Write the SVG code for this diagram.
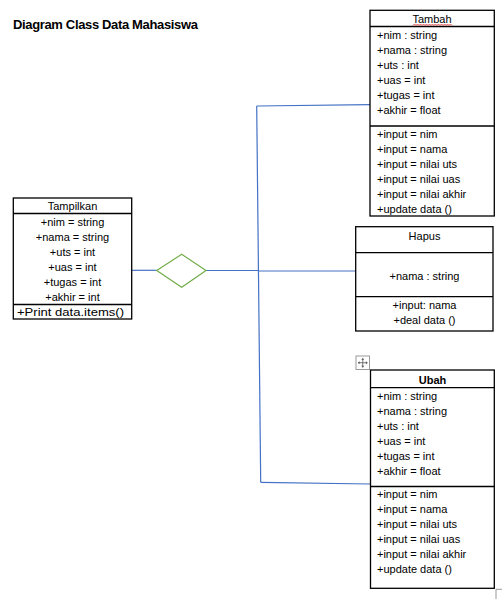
<svg xmlns="http://www.w3.org/2000/svg" width="502" height="599" viewBox="0 0 502 599">
<style>
.box{fill:#fff;stroke:#000;stroke-width:1.3}
.ln{stroke:#000;stroke-width:1.3}
.t{font-family:"Liberation Sans",Arial,sans-serif;font-size:11px;fill:#000}
.c{text-anchor:middle}
.con{stroke:#4472C4;stroke-width:1.2;fill:none}
</style>
<rect width="502" height="599" fill="#fff"/>
<text x="13" y="29" font-family="Liberation Sans,Arial,sans-serif" font-size="13" font-weight="bold" textLength="185">Diagram Class Data Mahasiswa</text>

<g id="connectors">
<line class="con" x1="131.7" y1="270.3" x2="156.7" y2="270.3"/>
<line class="con" x1="206" y1="270.5" x2="258.3" y2="270.5"/>
<line class="con" x1="256.7" y1="106" x2="260.7" y2="482.3"/>
<line class="con" x1="256.7" y1="106" x2="370" y2="104.7"/>
<line class="con" x1="260.7" y1="482.3" x2="370" y2="484"/>
<line class="con" x1="258.3" y1="271" x2="356" y2="271"/>
</g>

<g id="diamond">
<polygon points="156.7,270.5 181.7,254.3 206,270.5 181.7,287.3" fill="#fff" stroke="#70AD47" stroke-width="1.2"/>
</g>

<g id="tambah">
<rect class="box" x="370" y="10.3" width="124.3" height="205.7"/>
<line class="ln" x1="370" y1="26.5" x2="494.3" y2="26.5"/>
<line class="ln" x1="370" y1="126" x2="494.3" y2="126"/>
<text class="t c" x="432" y="23">Tambah</text>
<path d="M413,25.5 l1.5,-1.5 l1.5,1.5 l1.5,-1.5 l1.5,1.5 l1.5,-1.5 l1.5,1.5 l1.5,-1.5 l1.5,1.5 l1.5,-1.5 l1.5,1.5 l1.5,-1.5 l1.5,1.5 l1.5,-1.5 l1.5,1.5 l1.5,-1.5 l1.5,1.5 l1.5,-1.5 l1.5,1.5 l1.5,-1.5 l1.5,1.5 l1.5,-1.5 l1.5,1.5 l1.5,-1.5 l1.5,1.5 l1.5,-1.5 l1.5,1.5" fill="none" stroke="#e02020" stroke-width="0.8"/>
<text class="t" x="377" y="39">+nim : string</text>
<text class="t" x="377" y="54">+nama : string</text>
<text class="t" x="377" y="69">+uts : int</text>
<text class="t" x="377" y="84">+uas = int</text>
<text class="t" x="377" y="99">+tugas = int</text>
<text class="t" x="377" y="114">+akhir = float</text>
<text class="t" x="377" y="138">+input = nim</text>
<text class="t" x="377" y="153">+input = nama</text>
<text class="t" x="377" y="168">+input = nilai uts</text>
<text class="t" x="377" y="183">+input = nilai uas</text>
<text class="t" x="377" y="198">+input = nilai akhir</text>
<text class="t" x="377" y="213">+update data ()</text>
</g>

<g id="tampilkan">
<rect class="box" x="13.3" y="198" width="118.4" height="121"/>
<line class="ln" x1="13.3" y1="213.5" x2="131.7" y2="213.5"/>
<line class="ln" x1="13.3" y1="304.5" x2="131.7" y2="304.5"/>
<text class="t c" x="72.5" y="210">Tampilkan</text>
<text class="t c" x="72.5" y="226">+nim = string</text>
<text class="t c" x="72.5" y="241">+nama = string</text>
<text class="t c" x="72.5" y="256">+uts = int</text>
<text class="t c" x="72.5" y="271">+uas = int</text>
<text class="t c" x="72.5" y="286">+tugas = int</text>
<text class="t c" x="72.5" y="301">+akhir = int</text>
<text class="t" x="17" y="316" font-size="12" textLength="107" lengthAdjust="spacingAndGlyphs">+Print data.items()</text>
</g>

<g id="hapus">
<rect class="box" x="355.7" y="226.7" width="137.3" height="104.3"/>
<line class="ln" x1="355.7" y1="252.7" x2="493" y2="252.7"/>
<line class="ln" x1="355.7" y1="296.7" x2="493" y2="296.7"/>
<text class="t c" x="424.5" y="240">Hapus</text>
<text class="t c" x="424.5" y="280">+nama : string</text>
<text class="t c" x="424.5" y="309">+input: nama</text>
<text class="t c" x="424.5" y="324">+deal data ()</text>
</g>

<g id="ubah">
<rect class="box" x="370.5" y="370" width="123.8" height="218.3"/>
<line class="ln" x1="370.5" y1="387.7" x2="494.3" y2="387.7"/>
<line class="ln" x1="370.5" y1="486.5" x2="494.3" y2="486.5"/>
<text class="t c" x="432.5" y="384" font-size="13" font-weight="bold">Ubah</text>
<text class="t" x="377" y="400">+nim : string</text>
<text class="t" x="377" y="415">+nama : string</text>
<text class="t" x="377" y="430">+uts : int</text>
<text class="t" x="377" y="445">+uas = int</text>
<text class="t" x="377" y="460">+tugas = int</text>
<text class="t" x="377" y="475">+akhir = float</text>
<text class="t" x="377" y="498">+input = nim</text>
<text class="t" x="377" y="513">+input = nama</text>
<text class="t" x="377" y="528">+input = nilai uts</text>
<text class="t" x="377" y="543">+input = nilai uas</text>
<text class="t" x="377" y="558">+input = nilai akhir</text>
<text class="t" x="377" y="573">+update data ()</text>
</g>

<g id="handles">
<rect x="356" y="356" width="13.5" height="13.5" fill="#fff" stroke="#999" stroke-width="1"/>
<path d="M362.75,358.5 v9 M358.25,362.75 h9" stroke="#555" stroke-width="0.8"/>
<path d="M362.75,358 l-1.5,1.8 h3 z M362.75,367.5 l-1.5,-1.8 h3 z M357.8,362.75 l1.8,-1.5 v3 z M367.7,362.75 l-1.8,-1.5 v3 z" fill="#555"/>
<path d="M496,599 V589.3 H502" fill="none" stroke="#999" stroke-width="1"/>
</g>
</svg>
